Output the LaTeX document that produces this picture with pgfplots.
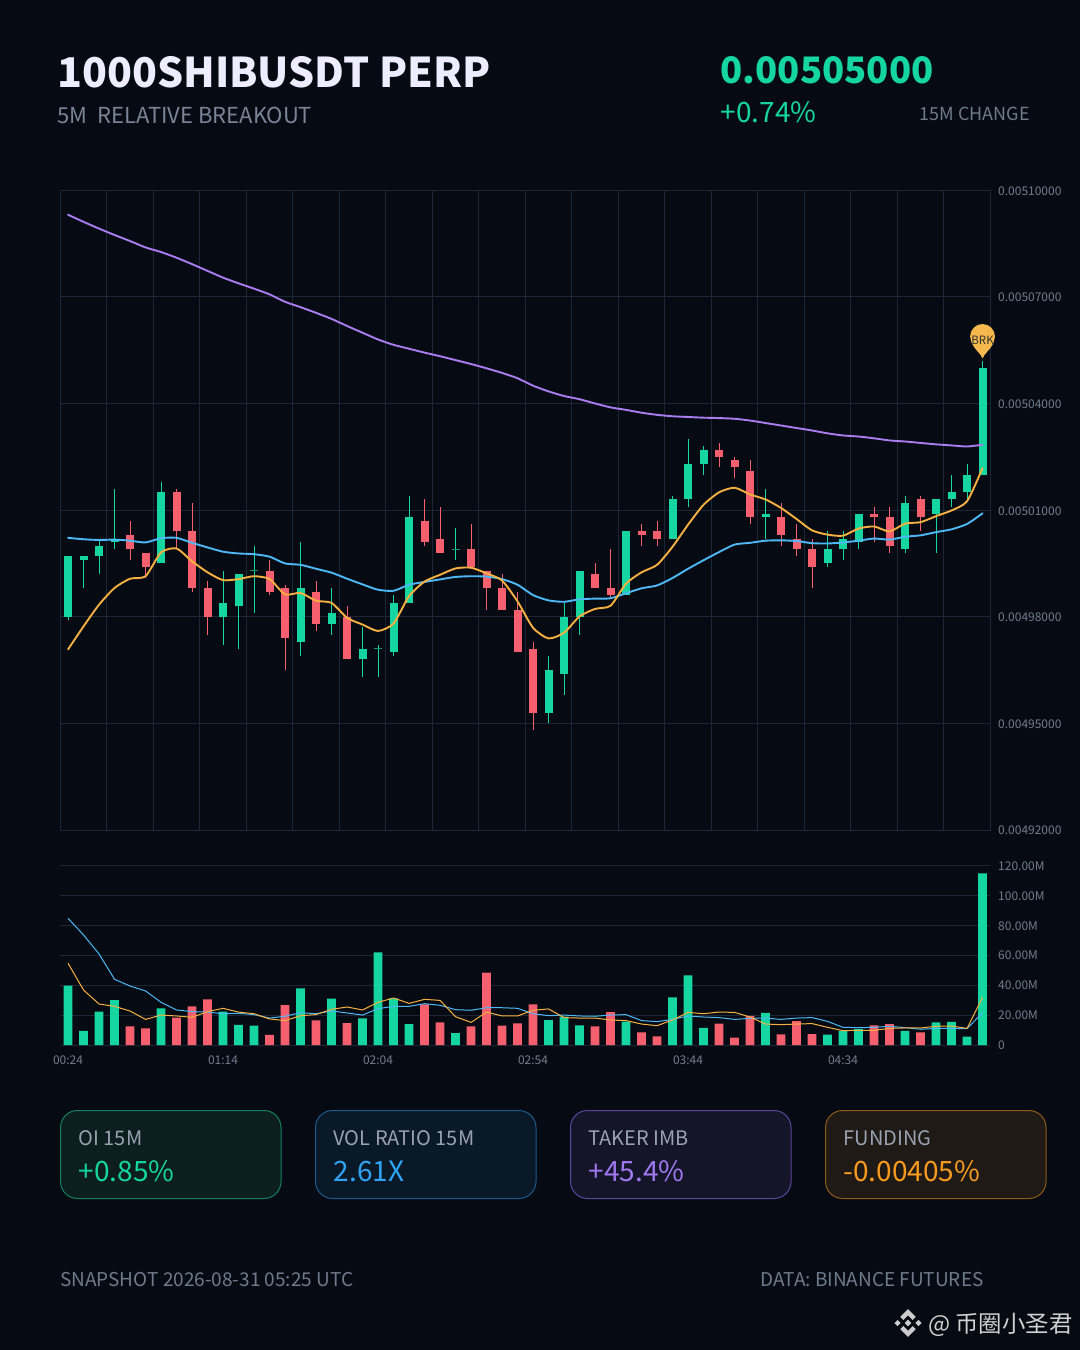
\documentclass[border=0pt]{standalone}
\usepackage{fontspec}
\usepackage{pgfplots}
\usepackage{pgfplotstable}
\pgfplotsset{compat=1.18}
\setmainfont{Noto Sans CJK SC}
\definecolor{bg}{HTML}{060B13}
\definecolor{gridc}{HTML}{1C2634}
\definecolor{up}{HTML}{15D6A0}
\definecolor{down}{HTML}{F65F6D}
\definecolor{mablue}{HTML}{4DB8F5}
\definecolor{maorange}{HTML}{F5B041}
\definecolor{mapurple}{HTML}{A97CF0}
\definecolor{ticktxt}{HTML}{737C8A}
\definecolor{subtxt}{HTML}{7A8496}
\definecolor{lbltxt}{HTML}{98A2B2}
\definecolor{foot}{HTML}{6F7A8A}
\definecolor{pin}{HTML}{F5B84C}
\definecolor{cf1}{HTML}{0C1E1E}\definecolor{cb1}{HTML}{13815F}\definecolor{cv1}{HTML}{15D6A0}
\definecolor{cf2}{HTML}{0A1928}\definecolor{cb2}{HTML}{1D5A8E}\definecolor{cv2}{HTML}{2FA4F5}
\definecolor{cf3}{HTML}{15152A}\definecolor{cb3}{HTML}{5E459C}\definecolor{cv3}{HTML}{A078F0}
\definecolor{cf4}{HTML}{1F1A16}\definecolor{cb4}{HTML}{8F5A1A}\definecolor{cv4}{HTML}{F79A1E}
\pgfdeclareplotmark{brkpin}{%
  \pgfpathcircle{\pgfqpoint{0pt}{24.4pt}}{12.4pt}%
  \pgfusepathqfill
  \pgfpathmoveto{\pgfqpoint{0pt}{2.4pt}}%
  \pgfpathcurveto{\pgfqpoint{-1.5pt}{7pt}}{\pgfqpoint{-8pt}{11pt}}{\pgfqpoint{-11.3pt}{19pt}}%
  \pgfpathlineto{\pgfqpoint{11.3pt}{19pt}}%
  \pgfpathcurveto{\pgfqpoint{8pt}{11pt}}{\pgfqpoint{1.5pt}{7pt}}{\pgfqpoint{0pt}{2.4pt}}%
  \pgfusepathqfill}
% candles: i, wick low, body low, body high, wick high
\pgfplotstableread{
i wl bl bh wh
0 0.004979 0.004980 0.004997 0.004997
1 0.004988 0.004996 0.004997 0.004997
2 0.004992 0.004997 0.005000 0.005002
3 0.004999 0.005001 0.005002 0.005016
6 0.004995 0.004995 0.005015 0.005018
10 0.004972 0.004980 0.004984 0.004993
11 0.004971 0.004983 0.004992 0.004992
12 0.004981 0.004993 0.004993 0.005000
15 0.004969 0.004973 0.004988 0.005001
17 0.004975 0.004978 0.004981 0.004988
19 0.004963 0.004968 0.004971 0.004977
20 0.004963 0.004971 0.004971 0.004972
21 0.004969 0.004970 0.004984 0.004986
22 0.004984 0.004984 0.005008 0.005014
25 0.004996 0.004999 0.004999 0.005005
31 0.004950 0.004953 0.004965 0.004969
32 0.004958 0.004964 0.004980 0.004984
33 0.004975 0.004980 0.004993 0.004993
36 0.004986 0.004986 0.005004 0.005004
39 0.005002 0.005002 0.005013 0.005014
40 0.005011 0.005013 0.005023 0.005030
41 0.005020 0.005023 0.005027 0.005028
45 0.005002 0.005008 0.005009 0.005016
49 0.004994 0.004995 0.004999 0.005004
50 0.004996 0.004999 0.005002 0.005004
51 0.004999 0.005001 0.005009 0.005009
54 0.004998 0.004999 0.005012 0.005014
56 0.004998 0.005009 0.005013 0.005013
57 0.005011 0.005013 0.005015 0.005020
58 0.005013 0.005015 0.005020 0.005023
59 0.005020 0.005020 0.005050 0.005052
}\greentab
\pgfplotstableread{
i wl bl bh wh
4 0.004996 0.004999 0.005003 0.005007
5 0.004991 0.004994 0.004998 0.004998
7 0.004999 0.005004 0.005015 0.005016
8 0.004987 0.004988 0.005004 0.005012
9 0.004975 0.004980 0.004988 0.004990
13 0.004986 0.004987 0.004993 0.004996
14 0.004965 0.004974 0.004988 0.004989
16 0.004976 0.004978 0.004987 0.004990
18 0.004968 0.004968 0.004980 0.004983
23 0.005000 0.005001 0.005007 0.005013
24 0.004998 0.004998 0.005002 0.005011
26 0.004994 0.004994 0.004999 0.005006
27 0.004982 0.004988 0.004993 0.004993
28 0.004982 0.004982 0.004988 0.004992
29 0.004970 0.004970 0.004982 0.004987
30 0.004948 0.004953 0.004971 0.004973
34 0.004988 0.004988 0.004992 0.004995
35 0.004985 0.004986 0.004988 0.004999
37 0.005000 0.005003 0.005004 0.005006
38 0.005000 0.005002 0.005004 0.005007
42 0.005022 0.005025 0.005027 0.005029
43 0.005019 0.005022 0.005024 0.005025
44 0.005006 0.005008 0.005021 0.005024
46 0.005000 0.005003 0.005008 0.005012
47 0.004997 0.004999 0.005002 0.005006
48 0.004988 0.004994 0.004999 0.005002
52 0.005001 0.005008 0.005009 0.005011
53 0.004998 0.005000 0.005008 0.005011
55 0.005004 0.005008 0.005013 0.005014
}\redtab
% moving averages on price: i, purple, blue, orange; on volume: blue, orange
\pgfplotstableread{
i purple blue orange vblue vorange
0 0.0050931 0.0050022 0.0049708 84.6 54.6
1 0.0050911 0.0050018 0.0049773 73.5 36.7
2 0.0050892 0.0050016 0.0049834 60.8 27.4
3 0.0050874 0.0050017 0.0049881 43.9 25.8
4 0.0050857 0.0050014 0.0049907 39.4 22.7
5 0.0050839 0.0050009 0.0049914 36.1 17.1
6 0.0050826 0.0050021 0.0049981 28.5 20.0
7 0.0050810 0.0050022 0.0049992 23.4 19.4
8 0.0050792 0.0050008 0.0049956 22.3 18.5
9 0.0050773 0.0049995 0.0049925 22.0 22.3
10 0.0050754 0.0049983 0.0049903 20.9 24.5
11 0.0050738 0.0049978 0.0049906 21.2 22.0
12 0.0050723 0.0049976 0.0049914 20.3 20.9
13 0.0050707 0.0049969 0.0049906 18.0 17.4
14 0.0050686 0.0049950 0.0049863 19.2 16.3
15 0.0050671 0.0049946 0.0049867 21.6 19.6
16 0.0050655 0.0049935 0.0049845 20.9 20.3
17 0.0050638 0.0049924 0.0049839 22.7 23.8
18 0.0050618 0.0049907 0.0049797 21.4 25.4
19 0.0050599 0.0049891 0.0049778 20.0 23.4
20 0.0050580 0.0049876 0.0049760 24.3 28.5
21 0.0050565 0.0049873 0.0049781 25.8 31.4
22 0.0050554 0.0049890 0.0049858 25.8 27.8
23 0.0050543 0.0049898 0.0049899 27.6 30.5
24 0.0050533 0.0049905 0.0049918 26.5 29.8
25 0.0050522 0.0049912 0.0049936 23.6 18.9
26 0.0050511 0.0049914 0.0049938 23.2 15.1
27 0.0050499 0.0049913 0.0049922 24.9 22.0
28 0.0050486 0.0049906 0.0049902 24.9 19.4
29 0.0050471 0.0049890 0.0049843 24.5 19.4
30 0.0050450 0.0049861 0.0049769 20.9 23.2
31 0.0050434 0.0049846 0.0049739 19.6 24.1
32 0.0050421 0.0049842 0.0049755 20.0 18.3
33 0.0050412 0.0049849 0.0049801 19.4 18.0
34 0.0050400 0.0049851 0.0049822 19.2 18.0
35 0.0050389 0.0049852 0.0049831 20.0 16.7
36 0.0050382 0.0049866 0.0049893 20.3 16.3
37 0.0050374 0.0049880 0.0049925 16.3 14.0
38 0.0050368 0.0049888 0.0049946 15.6 12.9
39 0.0050364 0.0049909 0.0049997 17.1 16.7
40 0.0050362 0.0049935 0.0050059 19.4 21.8
41 0.0050360 0.0049959 0.0050115 18.7 20.9
42 0.0050359 0.0049982 0.0050150 18.3 22.0
43 0.0050357 0.0050003 0.0050163 17.1 21.8
44 0.0050352 0.0050008 0.0050144 17.8 18.7
45 0.0050345 0.0050014 0.0050130 18.0 14.0
46 0.0050338 0.0050015 0.0050106 17.1 13.6
47 0.0050331 0.0050013 0.0050075 18.0 14.0
48 0.0050324 0.0050007 0.0050043 18.3 14.3
49 0.0050316 0.0050006 0.0050031 15.8 11.8
50 0.0050310 0.0050009 0.0050028 11.8 9.6
51 0.0050307 0.0050014 0.0050048 11.6 9.8
52 0.0050302 0.0050020 0.0050054 11.8 9.8
53 0.0050296 0.0050017 0.0050040 12.5 11.1
54 0.0050293 0.0050025 0.0050062 11.6 11.4
55 0.0050289 0.0050029 0.0050066 10.5 11.4
56 0.0050285 0.0050038 0.0050083 11.1 12.5
57 0.0050282 0.0050046 0.0050099 11.1 12.7
58 0.0050279 0.0050061 0.0050125 10.9 11.1
59 0.0050284 0.0050091 0.0050218 21.6 31.8
}\matab
\pgfplotstableread{
i v
0 39.6
1 9.4
2 22.3
3 30.0
6 24.5
10 22.3
11 13.4
12 12.9
15 37.9
17 31.0
19 17.8
20 61.9
21 31.2
22 14.0
25 8.0
31 16.7
32 18.9
33 13.1
36 15.6
39 31.8
40 46.5
41 11.4
45 21.4
49 6.9
50 9.4
51 10.7
54 9.4
56 15.1
57 15.4
58 5.6
59 114.7
}\volgreen
\pgfplotstableread{
i v
4 12.5
5 11.1
7 18.3
8 25.8
9 30.5
13 6.7
14 26.7
16 16.5
18 14.7
23 27.2
24 15.1
26 12.5
27 48.3
28 12.9
29 14.5
30 27.2
34 12.5
35 22.0
37 8.5
38 5.8
42 14.3
43 4.9
44 19.4
46 7.1
47 16.0
48 7.3
52 13.1
53 14.0
55 8.5
}\volred
\newcommand{\fs}[1]{\fontsize{#1}{#1}\selectfont}
\newcommand{\card}[6]{% x, fill, border, label, value, valuecolor
  \fill[#2,rounded corners=17pt] (#1,1110.5) rectangle ++(220.5,88);
  \draw[#3,line width=1pt,rounded corners=17pt] (#1,1110.5) rectangle ++(220.5,88);
  \node[anchor=base west,inner sep=0pt,text=lbltxt,font=\fs{20}] at (#1+18,1145) {#4};
  \node[anchor=base west,inner sep=0pt,text=#6,font=\fs{28}] at (#1+18,1181.5) {#5};
}
\begin{document}
\begin{tikzpicture}[x=1pt,y=-1pt]
\fill[bg] (0,0) rectangle (1080,1350);
\useasboundingbox (0,0) rectangle (1080,1350);
% header
\node[anchor=base west,inner sep=0pt,text=white!93!blue,font=\fs{41}\bfseries] at (57,87.7) {1000SHIBUSDT PERP};
\node[anchor=base west,inner sep=0pt,text=subtxt,font=\fs{22}] at (57,123.4) {5M\ \ RELATIVE BREAKOUT};
\node[anchor=base west,inner sep=0pt,text=up,font=\fs{36.5}\bfseries] at (720.5,83.3) {0.00505000};
\node[anchor=base west,inner sep=0pt,text=up,font=\fs{28}] at (720.5,122.2) {+0.74\%};
\node[anchor=base east,inner sep=0pt,text=foot,font=\fs{18}] at (1030,120.8) {15M CHANGE};
% price panel
\begin{axis}[
  at={(60.3pt,-830pt)},anchor=south west,scale only axis,width=930pt,height=639.8pt,
  xmin=-0.5,xmax=59.5,ymin=0.00492,ymax=0.0051,
  scaled y ticks=false,
  xtick={-0.5,2.5,5.5,8.5,11.5,14.5,17.5,20.5,23.5,26.5,29.5,32.5,35.5,38.5,41.5,44.5,47.5,50.5,53.5,56.5,59.5},
  xticklabels={},
  ytick={0.00492,0.00495,0.00498,0.00501,0.00504,0.00507,0.0051},
  yticklabels={0.00492000,0.00495000,0.00498000,0.00501000,0.00504000,0.00507000,0.00510000},
  yticklabel pos=right,
  yticklabel style={font=\fs{12},text=ticktxt,anchor=west,inner sep=0pt,xshift=7.7pt,yshift=-0.7pt},
  major tick length=0pt,
  grid=major,grid style={gridc,line width=1pt},
  axis line style={gridc,line width=1pt},
  clip=false,
]
\addplot[draw=none,forget plot,error bars/.cd,y dir=plus,y explicit,error mark=none,error bar style={up,line width=1pt}]
  table[x=i,y=wl,y error plus expr=\thisrow{wh}-\thisrow{wl}] {\greentab};
\addplot[draw=none,forget plot,error bars/.cd,y dir=plus,y explicit,error mark=none,error bar style={down,line width=1pt}]
  table[x=i,y=wl,y error plus expr=\thisrow{wh}-\thisrow{wl}] {\redtab};
\addplot[draw=none,forget plot,error bars/.cd,y dir=plus,y explicit,error mark=none,error bar style={up,line width=8pt}]
  table[x=i,y=bl,y error plus expr=\thisrow{bh}-\thisrow{bl}] {\greentab};
\addplot[draw=none,forget plot,error bars/.cd,y dir=plus,y explicit,error mark=none,error bar style={down,line width=8pt}]
  table[x=i,y=bl,y error plus expr=\thisrow{bh}-\thisrow{bl}] {\redtab};
% doji bodies
\addplot[only marks,mark=-,mark size=4pt,mark options={up!70!black,line width=1.2pt},forget plot]
  coordinates {(12,0.004993) (20,0.004971) (25,0.004999)};
\addplot[smooth,tension=0.4,mapurple,line width=1.9pt,line cap=round] table[x=i,y=purple] {\matab};
\addplot[smooth,tension=0.4,mablue,line width=1.9pt,line cap=round] table[x=i,y=blue] {\matab};
\addplot[smooth,tension=0.4,maorange,line width=1.9pt,line cap=round] table[x=i,y=orange] {\matab};
\addplot[only marks,mark=brkpin,mark options={fill=pin,draw=none},
  nodes near coords={BRK},
  nodes near coords align={anchor=base},
  every node near coord/.append style={font=\fs{11.5},text=black!80,inner sep=0pt,yshift=16.8pt}]
  coordinates {(59,0.005052)};
\end{axis}
% volume panel
\begin{axis}[
  at={(60.3pt,-1045pt)},anchor=south west,scale only axis,width=930pt,height=179.7pt,
  xmin=-0.5,xmax=59.5,ymin=0,ymax=120,
  xtick={0,10,20,30,40,50},
  xticklabels={00:24,01:14,02:04,02:54,03:44,04:34},
  xticklabel style={font=\fs{12},text=ticktxt,anchor=base,inner sep=0pt,yshift=-19pt},
  ytick={0,20,40,60,80,100,120},
  yticklabels={0,20.00M,40.00M,60.00M,80.00M,100.00M,120.00M},
  yticklabel pos=right,
  yticklabel style={font=\fs{12},text=ticktxt,anchor=west,inner sep=0pt,xshift=7.7pt,yshift=-0.5pt},
  major tick length=0pt,
  ymajorgrids,grid style={gridc,line width=1pt},
  axis line style={draw=none},
  clip=false,
]
\addplot[ybar,bar width=8.7pt,bar shift=0pt,fill=up,draw=none] table[x=i,y=v] {\volgreen};
\addplot[ybar,bar width=8.7pt,bar shift=0pt,fill=down,draw=none] table[x=i,y=v] {\volred};
\addplot[mablue,line width=1pt] table[x=i,y=vblue] {\matab};
\addplot[maorange,line width=1pt] table[x=i,y=vorange] {\matab};
\end{axis}
% metric cards
\card{60.5}{cf1}{cb1}{OI 15M}{+0.85\%}{cv1}
\card{315.5}{cf2}{cb2}{VOL RATIO 15M}{2.61X}{cv2}
\card{570.5}{cf3}{cb3}{TAKER IMB}{+45.4\%}{cv3}
\card{825.5}{cf4}{cb4}{FUNDING}{-0.00405\%}{cv4}
% footer
\node[anchor=base west,inner sep=0pt,text=foot,font=\fs{19}] at (60,1286) {SNAPSHOT 2026-08-31 05:25 UTC};
\node[anchor=base west,inner sep=0pt,text=foot,font=\fs{19}] at (760,1286) {DATA: BINANCE FUTURES};
% watermark
\begin{scope}[shift={(908,1323)},scale=13.8,x=1pt,y=1pt]
\fill[white!80!black] (0,-0.24)--(0.24,0)--(0,0.24)--(-0.24,0)--cycle;
\fill[white!80!black] (-0.76,-0.22)--(-0.54,0)--(-0.76,0.22)--(-0.98,0)--cycle;
\fill[white!80!black] (0.76,-0.22)--(0.98,0)--(0.76,0.22)--(0.54,0)--cycle;
\fill[white!80!black] (0,-1)--(0.56,-0.44)--(0.34,-0.22)--(0,-0.56)--(-0.34,-0.22)--(-0.56,-0.44)--cycle;
\fill[white!80!black] (0,1)--(0.56,0.44)--(0.34,0.22)--(0,0.56)--(-0.34,0.22)--(-0.56,0.44)--cycle;
\end{scope}
\node[anchor=base west,inner sep=0pt,text=white!82!black,font=\fs{23.4}] at (928,1332) {@ 币圈小圣君};
\end{tikzpicture}
\end{document}
